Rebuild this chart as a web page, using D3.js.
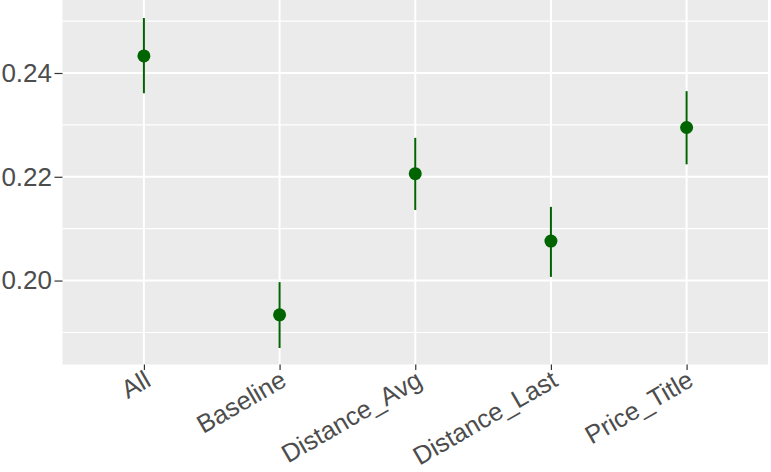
<!DOCTYPE html>
<html>
<head>
<meta charset="utf-8">
<script src="https://cdn.jsdelivr.net/npm/d3@7"></script>
<style>
  html, body { margin: 0; padding: 0; background: #fff; }
  svg { display: block; }
</style>
</head>
<body>
<svg id="chart" width="771" height="472"></svg>
<script>
const categories = ["All", "Baseline", "Distance_Avg", "Distance_Last", "Price_Title"];
const estimates  = [0.2433, 0.1934, 0.2206, 0.2076, 0.2295];
const lowerCI    = [0.2361, 0.1870, 0.2136, 0.2007, 0.2224];
const upperCI    = [0.2506, 0.1997, 0.2275, 0.2142, 0.2365];
const yMajorTicks = [0.20, 0.22, 0.24];
const yMinorTicks = [0.19, 0.21, 0.23, 0.25];

const data = categories.map((c, i) => ({ cat: c, est: estimates[i], lo: lowerCI[i], hi: upperCI[i] }));

const svg = d3.select("#chart");
const panel = { left: 62.5, right: 768, top: 1.5, bottom: 364.5 };
const FONT = "'Liberation Sans', Arial, Helvetica, sans-serif";

const lo = d3.min(lowerCI), hi = d3.max(upperCI);
const pad = (hi - lo) * 0.05;
const y = d3.scaleLinear().domain([lo - pad, hi + pad]).range([panel.bottom, panel.top]);
const x = d3.scalePoint().domain(categories).range([panel.left, panel.right]).padding(0.6);

// panel background
svg.append("rect")
  .attr("x", panel.left).attr("y", 0)
  .attr("width", panel.right - panel.left).attr("height", panel.bottom)
  .attr("fill", "#ebebeb");

const grid = svg.append("g");
grid.selectAll("line.minor").data(yMinorTicks).enter().append("line")
  .attr("x1", panel.left).attr("x2", panel.right)
  .attr("y1", d => y(d)).attr("y2", d => y(d))
  .attr("stroke", "#fff").attr("stroke-width", 1.1);
grid.selectAll("line.major").data(yMajorTicks).enter().append("line")
  .attr("x1", panel.left).attr("x2", panel.right)
  .attr("y1", d => y(d)).attr("y2", d => y(d))
  .attr("stroke", "#fff").attr("stroke-width", 2);
grid.selectAll("line.vmajor").data(categories).enter().append("line")
  .attr("x1", d => x(d)).attr("x2", d => x(d))
  .attr("y1", 0).attr("y2", panel.bottom)
  .attr("stroke", "#fff").attr("stroke-width", 2);

// y axis
const yAxis = svg.append("g")
  .attr("transform", `translate(${panel.left},0)`)
  .call(d3.axisLeft(y).tickValues(yMajorTicks).tickFormat(d3.format(".2f")).tickSize(8).tickPadding(2.5));
yAxis.select(".domain").remove();
yAxis.selectAll(".tick line").attr("stroke", "#333").attr("stroke-width", 1.2);
yAxis.selectAll(".tick text")
  .attr("fill", "#4d4d4d")
  .style("font-family", FONT)
  .style("font-size", "26px");

// x axis
const xAxis = svg.append("g")
  .attr("transform", `translate(0,${panel.bottom})`)
  .call(d3.axisBottom(x).tickSize(5.5).tickPadding(3));
xAxis.select(".domain").remove();
xAxis.selectAll(".tick line").attr("stroke", "#333").attr("stroke-width", 1.2);
xAxis.selectAll(".tick text")
  .attr("fill", "#4d4d4d")
  .style("font-family", FONT)
  .style("font-size", "25.5px")
  .attr("text-anchor", "end")
  .attr("y", 0).attr("dy", 0)
  .attr("transform", "translate(8,20.5) rotate(-30)");

// error bars
svg.append("g").selectAll("line").data(data).enter().append("line")
  .attr("x1", d => x(d.cat)).attr("x2", d => x(d.cat))
  .attr("y1", d => y(d.lo)).attr("y2", d => y(d.hi))
  .attr("stroke", "#006400").attr("stroke-width", 2);

// points
svg.append("g").selectAll("circle").data(data).enter().append("circle")
  .attr("cx", d => x(d.cat)).attr("cy", d => y(d.est))
  .attr("r", 6.5).attr("fill", "#006400");
</script>
</body>
</html>
